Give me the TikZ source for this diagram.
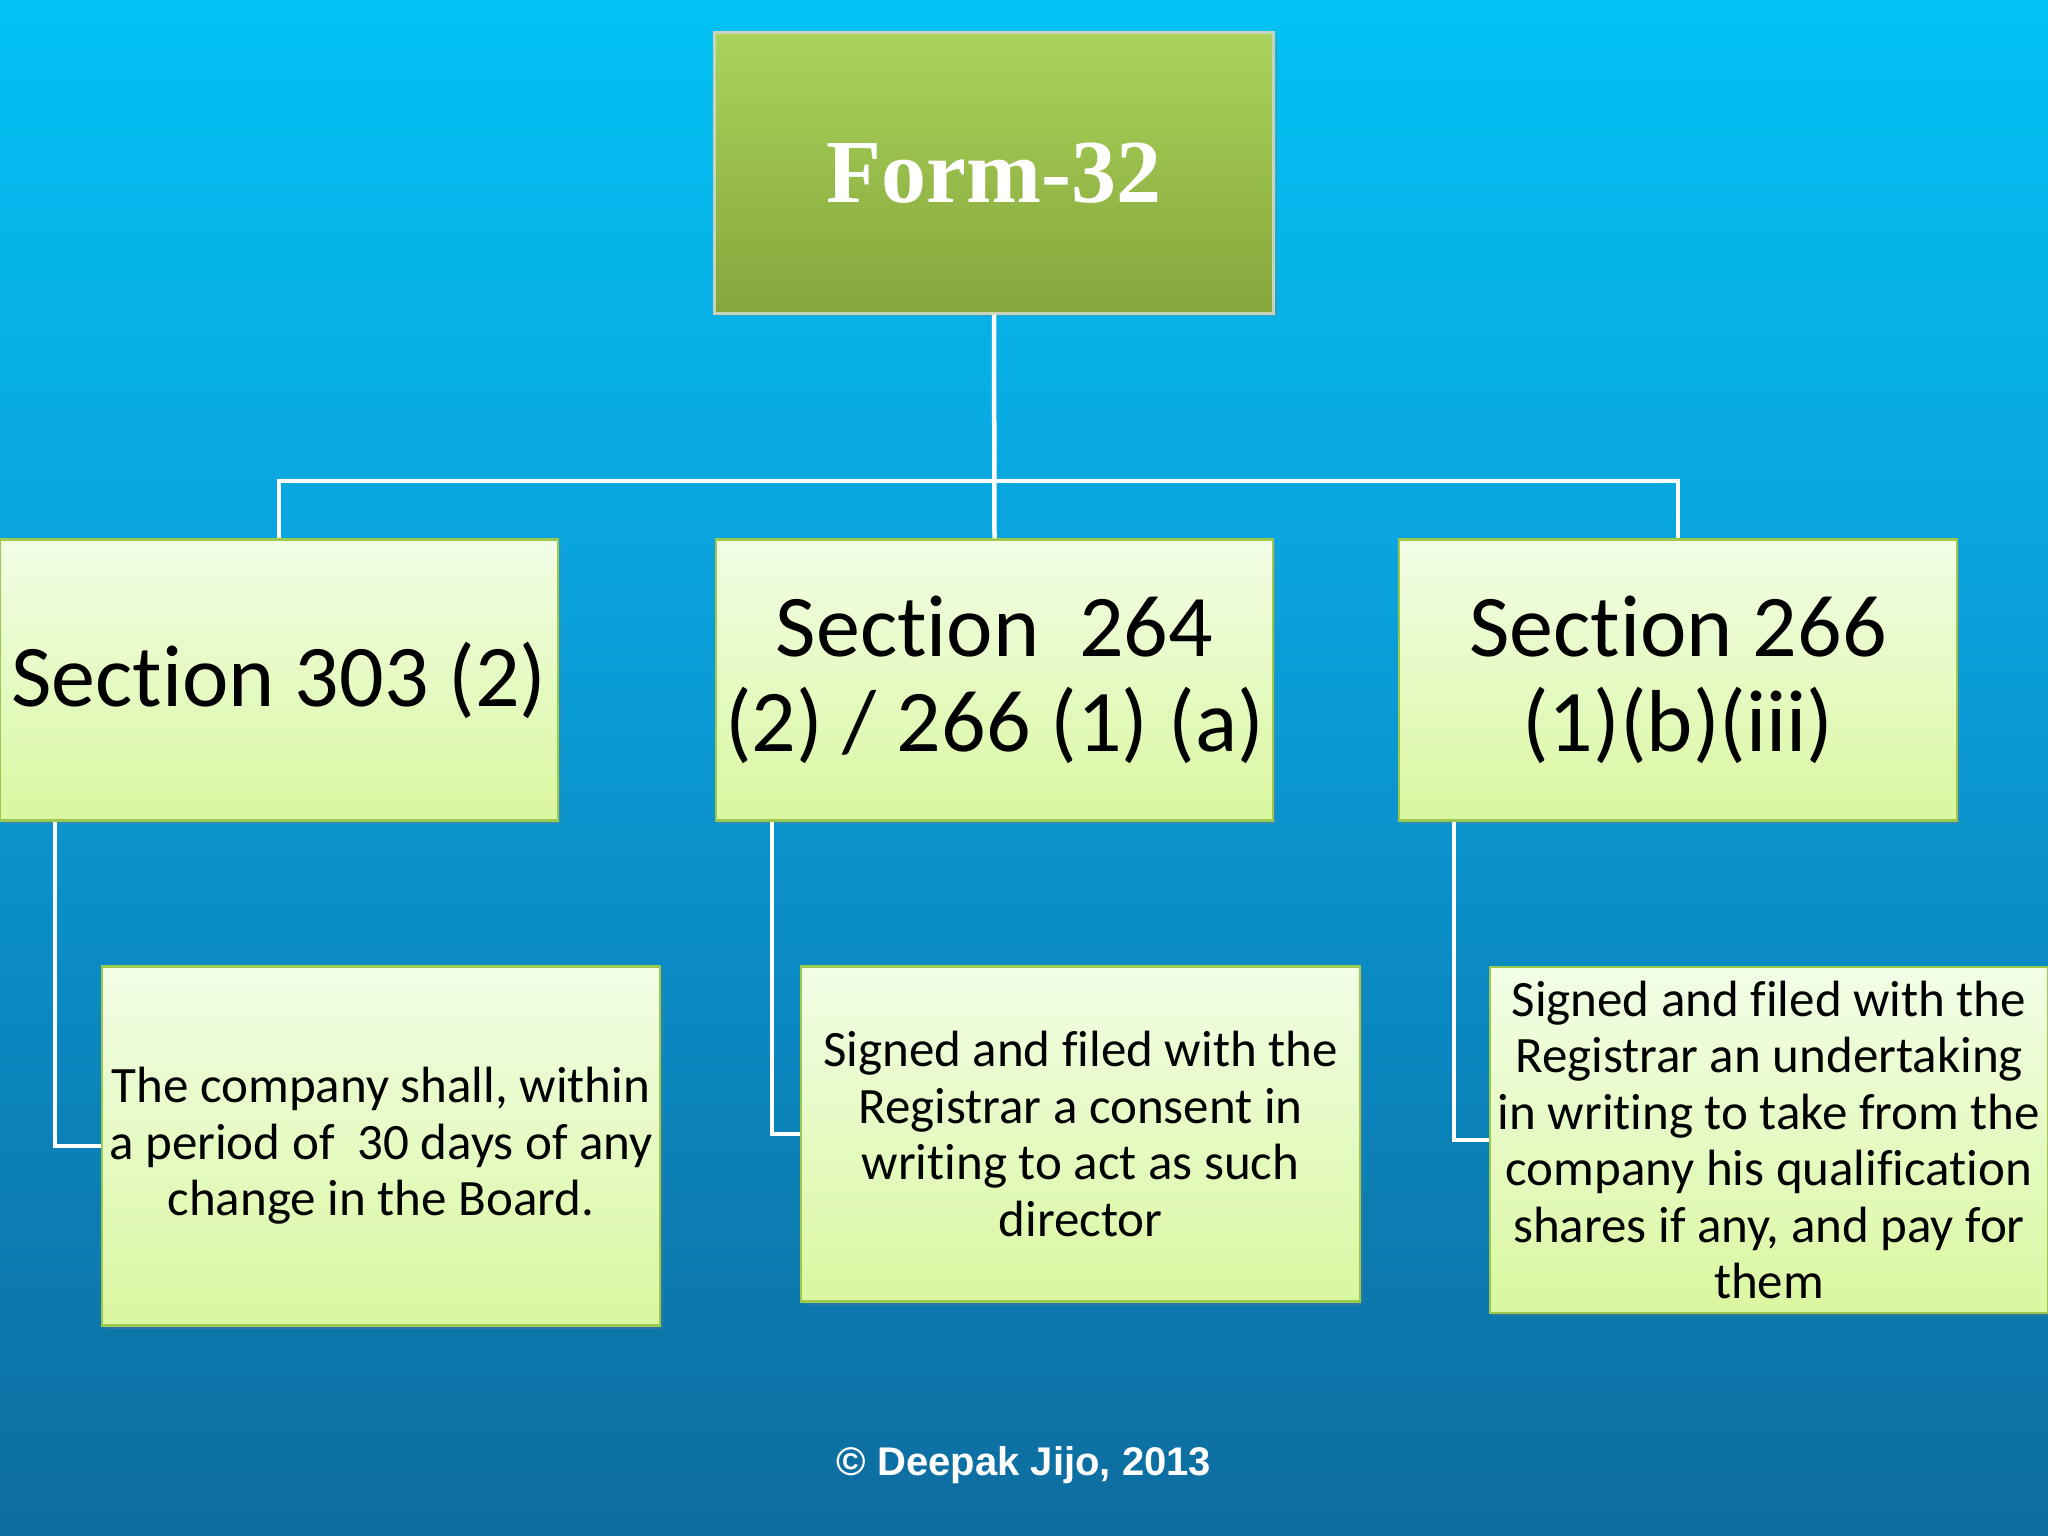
\documentclass[tikz,border=0pt]{standalone}
\usepackage{fontspec}
\setmainfont[RawFeature={-liga;-clig;-dlig}]{Carlito}
\newfontfamily\timesf{Liberation Serif}
\newfontfamily\arialf{Liberation Sans}
\usetikzlibrary{shadows}
\newcommand{\nl}{\kern0pt }
\definecolor{bgA}{HTML}{02C2F4}
\definecolor{bgB}{HTML}{0AA3DD}
\definecolor{bgC}{HTML}{0B86BE}
\definecolor{bgD}{HTML}{0D6C9E}
\definecolor{ltop}{HTML}{F2FDE6}
\definecolor{lbot}{HTML}{DAF7A0}
\definecolor{ledge}{HTML}{9CC84E}
\definecolor{gtop}{HTML}{A9D35A}
\definecolor{gbot}{HTML}{86A63C}
\definecolor{gedge}{HTML}{C9D4BC}
\tikzset{
  lbox/.style={draw=ledge, line width=2.5pt, top color=ltop, bottom color=lbot,
    inner sep=0pt, align=center, text=black,
    drop shadow={shadow xshift=3pt, shadow yshift=-3pt, opacity=0.25}},
  gbox/.style={draw=gedge, line width=3pt, top color=gtop, bottom color=gbot,
    inner sep=0pt, align=center, text=white,
    drop shadow={shadow xshift=3pt, shadow yshift=-3pt, opacity=0.3}},
  conn/.style={draw=white, line width=4.5pt},
  secfont/.style={font=\fontsize{88}{95}\selectfont},
  txtfont/.style={font=\fontsize{51}{56.5}\selectfont}
}
\begin{document}
\begin{tikzpicture}[x=1pt,y=-1pt]
\useasboundingbox (0,0) rectangle (2048,1536);
% background
\shade[top color=bgA, bottom color=bgB] (0,0) rectangle (2048,560);
\shade[top color=bgB, bottom color=bgC] (0,560) rectangle (2048,1050);
\shade[top color=bgC, bottom color=bgD] (0,1050) rectangle (2048,1536);
% coordinates
\coordinate (bar) at (994,481);
\coordinate (e1) at (55,820);
\coordinate (e2) at (772,820);
\coordinate (e3) at (1454,820);
% boxes
\node[gbox, minimum width=559, minimum height=280] (top) at (994,173)
  {\timesf\bfseries\fontsize{90}{95}\selectfont Form-32};
\node[lbox, secfont, minimum width=558, minimum height=281] (s1) at (279,680)
  {Sect\nl ion 303 (2)};
\node[lbox, secfont, minimum width=557, minimum height=281] (s2) at (994.5,680)
  {Sect\nl ion\ \ 264\\(2) / 266 (1) (a)};
\node[lbox, secfont, minimum width=558, minimum height=281] (s3) at (1678,680)
  {Sect\nl ion 266\\(1)(b)(iii)};
\node[lbox, txtfont, minimum width=558, minimum height=359] (b1) at (381,1146)
  {The company shall, within\\a period of\ \ 30 days of any\\change in the Board.};
\node[lbox, txtfont, minimum width=559, minimum height=335] (b2) at (1080.5,1134)
  {Signed and f\nl iled with the\\Registrar a consent in\\writing to act as such\\director};
\node[lbox, txtfont, minimum width=558, minimum height=346] (b3) at (1769,1140)
  {Signed and f\nl iled with the\\Registrar an undertaking\\in writing to take from the\\company his qualif\nl icat\nl ion\\shares if any, and pay for\\them};
% connectors
\draw[conn] (top.south) -- (s2.north);
\draw[conn] (s1.north) |- (bar) -| (s3.north);
\draw[conn] (s1.south -| e1) |- (b1.west);
\draw[conn] (s2.south -| e2) |- (b2.west);
\draw[conn] (s3.south -| e3) |- (b3.west);
% footer
\node[text=white, font=\arialf\bfseries\fontsize{40}{42}\selectfont] (copy) at (1024,1465)
  {© Deepak Jijo, 2013};
\end{tikzpicture}
\end{document}
